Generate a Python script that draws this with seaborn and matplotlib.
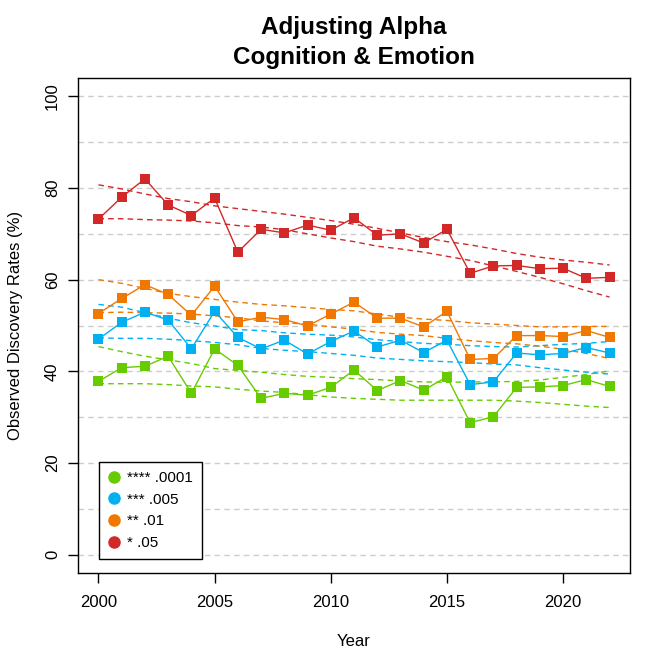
import numpy as np
import pandas as pd
import matplotlib
matplotlib.use('Agg')
import matplotlib.pyplot as plt
from matplotlib.lines import Line2D
import seaborn as sns

# data
years = list(range(2000, 2023))
levels = ['**** .0001', '*** .005', '** .01', '* .05']
colors = ['#66CC00', '#00B0F0', '#F07800', '#D22828']

odr_0001 = [37.8, 40.8, 41.1, 43.3, 35.2, 44.9, 41.3, 34.1, 35.2, 34.8, 36.5, 40.3,
            35.8, 38.0, 35.9, 38.8, 28.8, 30.1, 36.5, 36.6, 36.9, 38.2, 36.7]
odr_005 = [47.0, 50.7, 52.9, 51.2, 44.9, 53.1, 47.4, 44.9, 46.8, 43.8, 46.5, 48.8,
           45.3, 46.8, 44.1, 46.8, 37.1, 37.7, 44.0, 43.6, 43.9, 45.2, 44.0]
odr_01 = [52.6, 55.9, 58.9, 56.8, 52.2, 58.6, 50.8, 51.8, 51.3, 49.9, 52.5, 55.1,
          51.6, 51.6, 49.7, 53.1, 42.6, 42.8, 47.8, 47.8, 47.6, 48.9, 47.4]
odr_05 = [73.2, 78.0, 82.0, 76.3, 74.0, 77.8, 66.0, 71.0, 70.2, 71.9, 70.8, 73.5,
          69.7, 70.0, 68.0, 71.0, 61.4, 63.0, 63.1, 62.4, 62.5, 60.3, 60.5]

# dashed trend curves, upper and lower, per level
up_0001 = [45.4, 44.3, 43.3, 42.5, 41.7, 40.6, 40.2, 39.8, 39.3, 38.9, 38.7, 38.4,
           38.2, 37.9, 37.7, 37.6, 37.7, 37.7, 37.8, 38.1, 38.7, 39.3, 40.1]
lo_0001 = [37.3, 37.3, 37.3, 37.1, 36.8, 36.6, 36.1, 35.7, 35.4, 34.9, 34.4, 34.1,
           33.9, 33.7, 33.7, 33.7, 33.7, 33.7, 33.5, 33.2, 32.8, 32.4, 32.1]
up_005 = [54.6, 54.0, 52.8, 51.6, 50.6, 49.9, 49.1, 48.9, 48.4, 48.1, 47.9, 47.5,
          46.9, 46.5, 46.1, 45.9, 45.6, 45.4, 45.3, 45.6, 45.9, 46.1, 46.5]
lo_005 = [47.3, 47.2, 47.2, 47.0, 46.7, 46.3, 45.8, 45.0, 44.6, 44.3, 43.9, 43.5,
          42.9, 42.6, 42.3, 42.1, 41.9, 41.6, 41.4, 40.8, 40.3, 39.8, 39.4]
up_01 = [60.0, 59.2, 58.1, 57.0, 56.3, 55.7, 55.1, 54.6, 54.3, 53.9, 53.5, 53.2,
         52.5, 51.8, 51.4, 51.1, 50.6, 50.3, 50.0, 49.7, 49.7, 49.8, 49.8]
lo_01 = [52.8, 52.9, 52.8, 52.7, 52.5, 52.1, 51.7, 51.0, 50.6, 50.3, 49.7, 49.2,
         48.5, 48.1, 47.8, 47.2, 46.7, 46.3, 46.0, 45.5, 44.8, 43.9, 42.8]
up_05 = [80.7, 79.8, 78.7, 77.7, 77.0, 76.1, 75.5, 74.9, 74.3, 73.6, 72.9, 72.1,
         71.2, 70.2, 69.2, 68.3, 67.6, 66.7, 65.7, 64.9, 64.3, 63.8, 63.2]
lo_05 = [73.3, 73.3, 73.1, 73.0, 72.8, 72.4, 71.8, 71.5, 70.9, 70.0, 69.1, 68.3,
         67.3, 66.7, 66.0, 65.1, 64.2, 63.0, 61.8, 60.5, 59.1, 57.6, 56.2]

series = [odr_0001, odr_005, odr_01, odr_05]
uppers = [up_0001, up_005, up_01, up_05]
lowers = [lo_0001, lo_005, lo_01, lo_05]

df = pd.concat([pd.DataFrame({'Year': years, 'ODR': s, 'level': lv})
                for s, lv in zip(series, levels)], ignore_index=True)
bands = pd.concat([pd.DataFrame({'Year': years, 'ODR': b, 'level': lv, 'bound': nm})
                   for up, lo, lv in zip(uppers, lowers, levels)
                   for b, nm in ((up, 'upper'), (lo, 'lower'))], ignore_index=True)

sns.set_style('white')
plt.rcParams['font.family'] = ['Liberation Sans', 'DejaVu Sans']
plt.rcParams['text.color'] = 'black'
plt.rcParams['axes.labelcolor'] = 'black'
plt.rcParams['xtick.color'] = 'black'
plt.rcParams['ytick.color'] = 'black'

fig = plt.figure(figsize=(6.72, 6.71), dpi=100)
ax = fig.add_axes([78 / 672, 1 - 573 / 671, 552 / 672, 495 / 671])

# grid
for g in range(0, 101, 10):
    ax.axhline(g, color='#CCCCCC', lw=1, ls=(0, (4, 3)), zorder=0)

pal = dict(zip(levels, colors))
sns.lineplot(data=bands, x='Year', y='ODR', hue='level', units='bound', estimator=None,
             palette=pal, lw=1, dashes=False, ls=(0, (4, 3)), legend=False, ax=ax)
sns.lineplot(data=df, x='Year', y='ODR', hue='level', palette=pal, lw=1,
             marker='s', markersize=7.5, markeredgewidth=0, legend=False, ax=ax)

ax.set_xlim(1999.12, 2022.88)
ax.set_ylim(-4, 104)
ax.set_xticks([2000, 2005, 2010, 2015, 2020])
ax.set_yticks([0, 20, 40, 60, 80, 100])
ax.set_yticklabels(['0', '20', '40', '60', '80', '100'], rotation=90, va='center')
ax.tick_params(axis='both', direction='out', length=7, width=1, color='black',
               labelsize=12, bottom=True, left=True)
ax.tick_params(axis='x', pad=9)
ax.tick_params(axis='y', pad=6)
for sp in ax.spines.values():
    sp.set_color('black')
    sp.set_linewidth(1)

ax.set_xlabel('Year', fontsize=12, labelpad=17)
ax.set_ylabel('Observed Discovery Rates (%)', fontsize=12, labelpad=16)
ax.set_title('Adjusting Alpha\nCognition & Emotion', fontsize=17.5, fontweight='bold',
             linespacing=1.38, pad=10)

handles = [Line2D([], [], marker='o', ls='none', color=c, markersize=8) for c in colors]
leg = ax.legend(handles, levels, loc='lower left', bbox_to_anchor=(0.038, 0.028),
                fontsize=11, frameon=True, fancybox=False, framealpha=1,
                edgecolor='black', borderpad=0.6, labelspacing=0.5,
                handletextpad=0.45, handlelength=0.8, borderaxespad=0)
leg.get_frame().set_linewidth(1)

fig.savefig('out.png', dpi=100)
